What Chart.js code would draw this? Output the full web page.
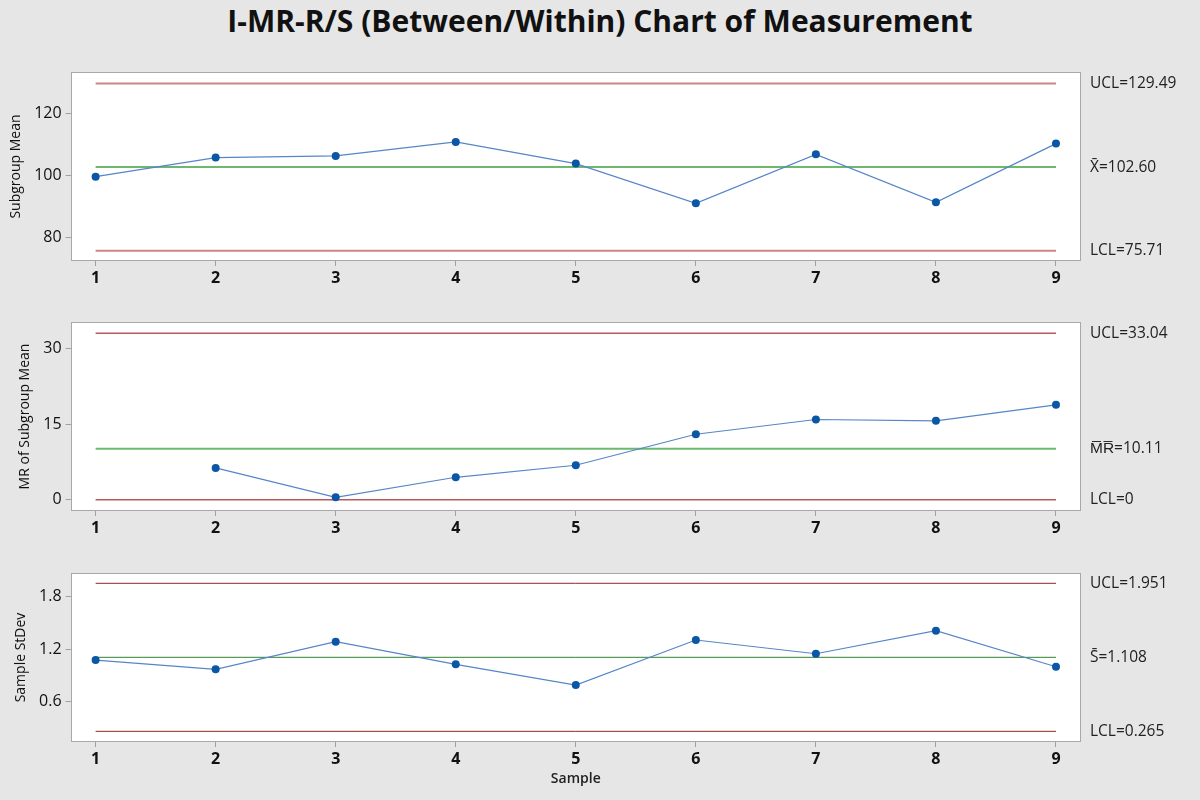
<!DOCTYPE html>
<html>
<head>
<meta charset="utf-8">
<title>I-MR-R/S (Between/Within) Chart of Measurement</title>
<script src="https://cdn.jsdelivr.net/npm/chart.js@4.4.1/dist/chart.umd.min.js"></script>
<style>
  html, body { margin: 0; padding: 0; background: #e6e6e6; }
  #page { position: relative; width: 1200px; height: 800px; overflow: hidden; background: #e6e6e6; }
  h1 {
    position: absolute; left: 0; top: 0; width: 1200px; margin: 0;
    text-align: center; line-height: 58px; color: #111;
    font: bold 30px 'Open Sans', sans-serif;
  }
  .panel { position: absolute; left: 0; width: 1200px; }
  .panel canvas { display: block; }
</style>
</head>
<body>
<div id="page">
  <h1>I-MR-R/S (Between/Within) Chart of Measurement</h1>
  <div class="panel" style="top:63px;height:237px"><canvas id="meanChart" width="1200" height="237"></canvas></div>
  <div class="panel" style="top:313px;height:237px"><canvas id="mrChart" width="1200" height="237"></canvas></div>
  <div class="panel" style="top:564px;height:235px"><canvas id="sdChart" width="1200" height="235"></canvas></div>
</div>
<script>
// donnees
const samples = [1, 2, 3, 4, 5, 6, 7, 8, 9];
const subgroupMeans = [99.54, 105.66, 106.20, 110.71, 103.73, 90.94, 106.72, 91.26, 110.17];
const movingRanges = [null, 6.31, 0.47, 4.45, 6.84, 13.00, 15.93, 15.66, 18.85];
const sampleStDevs = [1.077, 0.971, 1.286, 1.028, 0.792, 1.305, 1.149, 1.411, 1.001];

// LCL, ligne centrale, UCL
const meanLimits = [75.71, 102.60, 129.49];
const mrLimits = [0, 10.11, 33.04];
const sdLimits = [0.265, 1.108, 1.951];
const meanLimitLabels = ['LCL=75.71', 'X\u0304=102.60', 'UCL=129.49'];
const mrLimitLabels = ['LCL=0', 'M\u0305R\u0305=10.11', 'UCL=33.04'];
const sdLimitLabels = ['LCL=0.265', 'S\u0304=1.108', 'UCL=1.951'];

const meanTicks = [80, 100, 120];
const mrTicks = [0, 15, 30];
const sdTicks = [0.6, 1.2, 1.8];
const sampleTicks = ['1', '2', '3', '4', '5', '6', '7', '8', '9'];

const FONT = "'Open Sans', sans-serif";

// fond blanc + cadre gris de la zone de trac√©
const plotBox = {
    id: 'plotBox',
    beforeDraw(chart) {
        const { ctx, chartArea: a } = chart;
        ctx.save();
        ctx.fillStyle = '#ffffff';
        ctx.fillRect(a.left, a.top, a.width, a.height);
        ctx.restore();
    },
    afterDraw(chart) {
        const { ctx, chartArea: a } = chart;
        ctx.save();
        ctx.strokeStyle = '#a8a8a8';
        ctx.lineWidth = 1;
        ctx.strokeRect(Math.round(a.left) - 0.5, Math.round(a.top) - 0.5, Math.round(a.width) + 1, Math.round(a.height) + 1);
        ctx.restore();
    }
};

// pas de marge auto pour les labels : la zone de trac√© reste fixe
function noPadding(scale) {
    scale.paddingTop = 0;
    scale.paddingBottom = 0;
    scale.paddingLeft = 0;
    scale.paddingRight = 0;
}

function limitLine(value, color, width) {
    return {
        data: [{ x: samples[0], y: value }, { x: samples[samples.length - 1], y: value }],
        borderColor: color,
        borderWidth: width,
        pointRadius: 0,
        pointHoverRadius: 0
    };
}

function makeChart(id, p) {
    var ctx = document.getElementById(id).getContext('2d');
    return new Chart(ctx, {
        type: 'line',
        data: {
            datasets: [
                {
                    data: samples.map((s, i) => ({ x: s, y: p.values[i] })),
                    borderColor: '#5586c8',
                    borderWidth: 1.2,
                    pointRadius: 4,
                    pointBackgroundColor: '#0b56a5',
                    pointBorderColor: '#0b56a5',
                    pointBorderWidth: 0,
                    spanGaps: false
                },
                limitLine(p.limits[2], p.limitColor, p.limitWidth),
                limitLine(p.limits[1], p.centerColor, p.centerWidth),
                limitLine(p.limits[0], p.limitColor, p.limitWidth)
            ]
        },
        options: {
            responsive: false,
            animation: false,
            layout: { padding: { left: 4, right: 0, top: 10, bottom: 0 } },
            plugins: {
                legend: { display: false },
                tooltip: { enabled: false }
            },
            scales: {
                x: {
                    type: 'linear',
                    min: 0.8,
                    max: 9.2,
                    afterBuildTicks: axis => { axis.ticks = samples.map(v => ({ value: v })); },
                    afterFit: scale => { scale.height = p.xHeight; noPadding(scale); },
                    border: { display: false },
                    grid: { drawOnChartArea: false, tickLength: 6, color: '#a0a0a0' },
                    ticks: {
                        autoSkip: false,
                        maxRotation: 0,
                        padding: 3,
                        color: '#111',
                        font: { family: FONT, size: 16, weight: 'bold' },
                        callback: (v, i) => sampleTicks[i]
                    },
                    title: {
                        display: !!p.xTitle,
                        text: p.xTitle || '',
                        color: '#222',
                        padding: { top: 0, bottom: 12 },
                        font: { family: FONT, size: 14, weight: '600' }
                    }
                },
                y: {
                    type: 'linear',
                    position: 'left',
                    min: p.min,
                    max: p.max,
                    afterBuildTicks: axis => { axis.ticks = p.ticks.map(v => ({ value: v })); },
                    afterFit: scale => { scale.width = 67.6; noPadding(scale); },
                    border: { display: false },
                    grid: { drawOnChartArea: false, tickLength: 6, color: '#a0a0a0' },
                    ticks: {
                        autoSkip: false,
                        padding: 4,
                        color: '#111',
                        font: { family: FONT, size: 16 },
                        callback: v => String(v)
                    },
                    title: {
                        display: true,
                        text: p.yTitle,
                        color: '#111',
                        padding: { top: p.titlePad, bottom: 0 },
                        font: { family: FONT, size: 14 }
                    }
                },
                limits: {
                    type: 'linear',
                    position: 'right',
                    min: p.min,
                    max: p.max,
                    afterBuildTicks: axis => { axis.ticks = p.limits.map(v => ({ value: v })); },
                    afterFit: scale => { scale.width = 120; noPadding(scale); },
                    border: { display: false },
                    grid: { display: false },
                    ticks: {
                        autoSkip: false,
                        padding: 2,
                        color: '#222',
                        font: { family: FONT, size: 15.5 },
                        callback: (v, i) => p.limitLabels[i]
                    }
                }
            }
        },
        plugins: [plotBox]
    });
}

document.addEventListener("DOMContentLoaded", function() {
    makeChart('meanChart', {
        values: subgroupMeans, limits: meanLimits, limitLabels: meanLimitLabels,
        ticks: meanTicks, min: 72.7, max: 132.9,
        yTitle: 'Subgroup Mean', titlePad: 4, xHeight: 40,
        limitColor: '#cc8585', limitWidth: 2, centerColor: '#3f9f3f', centerWidth: 1.5
    });
    makeChart('mrChart', {
        values: movingRanges, limits: mrLimits, limitLabels: mrLimitLabels,
        ticks: mrTicks, min: -2.05, max: 35.1,
        yTitle: 'MR of Subgroup Mean', titlePad: 13, xHeight: 40,
        limitColor: '#b65a5a', limitWidth: 1.5, centerColor: '#6cb86c', centerWidth: 2
    });
    makeChart('sdChart', {
        values: sampleStDevs, limits: sdLimits, limitLabels: sdLimitLabels,
        ticks: sdTicks, min: 0.155, max: 2.057,
        yTitle: 'Sample StDev', titlePad: 9, xHeight: 58, xTitle: 'Sample',
        limitColor: '#8e2626', limitWidth: 1, centerColor: '#2f852f', centerWidth: 1
    });
});
</script>
</body>
</html>
